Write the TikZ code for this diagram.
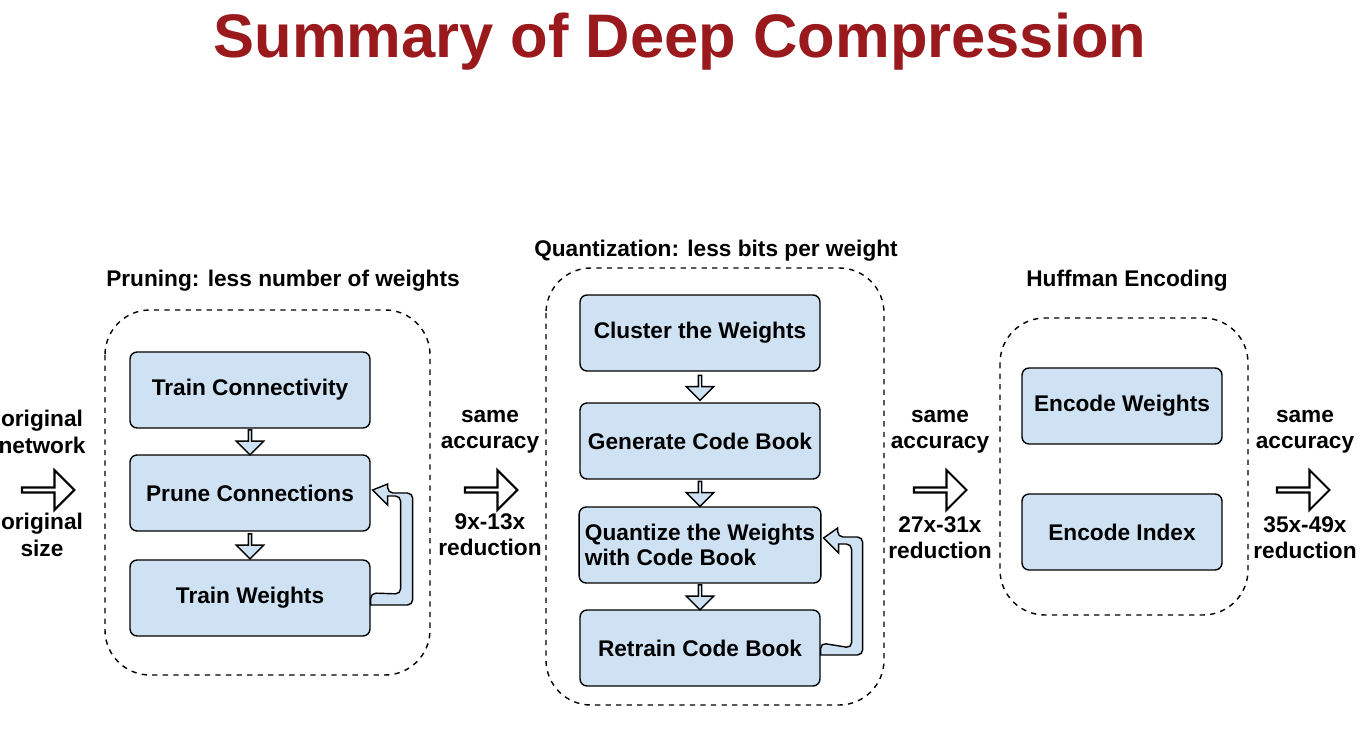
\documentclass[tikz,border=0pt]{standalone}
\usepackage{fontspec}
\setmainfont{Liberation Sans}
\usetikzlibrary{positioning, shapes.arrows, calc}
\definecolor{titlered}{HTML}{99191C}
\definecolor{stepblue}{HTML}{CFE2F3}
\tikzset{
  stepbox/.style={draw, thick, fill=stepblue, rounded corners=4pt, minimum width=4.8cm, minimum height=1.52cm, font=\bfseries\fontsize{12.9}{14.5}\selectfont, align=left},
  stage/.style={draw, thick, dashed, rounded corners=0.9cm},
  stagelabel/.style={font=\bfseries\fontsize{12.9}{14.5}\selectfont},
  note/.style={font=\bfseries\fontsize{12.9}{15}\selectfont, align=center},
  bigarrow/.style={single arrow, draw, very thick, fill=white, minimum width=0.8cm, single arrow head extend=0.15cm, minimum height=1.05cm, inner sep=0pt},
  downarrow/.style={single arrow, draw, thick, fill=stepblue, rotate=-90, minimum width=0.55cm, single arrow head extend=0.1cm, minimum height=0.5cm, inner sep=0pt}
}
\begin{document}
\begin{tikzpicture}[x=0.02cm, y=-0.02cm]
  \useasboundingbox (0,0) rectangle (1361,732);
  \node[font=\bfseries\fontsize{35}{37}\selectfont, text=titlered] (title) at (680,42) {Summary of Deep Compression};

  % pruning
  \draw[stage] (105,310) rectangle (430,675);
  \node[stagelabel] (plabel) at (283,281) {Pruning: less number of weights};
  \node[stepbox] (tc) at (250,390) {Train Connectivity};
  \node[stepbox] (pc) at (250,493) {Prune Connections};
  \node[stepbox] (tw) at (250,598) {Train Weights};
  \node[downarrow] (d1) at ($(tc.south)!0.5!(pc.north)$) {};
  \node[downarrow] (d2) at ($(pc.south)!0.5!(tw.north)$) {};
  \filldraw[thick, fill=stepblue, rounded corners=3pt]
    ($(tw.east)+(0,7)$) -- ++(42,0) -- ++(0,-112) -- ++(-25,0) [sharp corners] -- ++(0,-9) -- ($(pc.east)+(2,-3)$) -- ++(15,15) -- ++(0,-9) [rounded corners=3pt] -- ++(13,0) -- ++(0,98) -- ($(tw.east)+(0,-5)$) [sharp corners] -- cycle;

  % quantization
  \draw[stage] (546,268) rectangle (884,705);
  \node[stagelabel] (qlabel) at (716,251) {Quantization: less bits per weight};
  \node[stepbox] (cw) at (700,333) {Cluster the Weights};
  \node[stepbox] (gc) at (700,441) {Generate Code Book};
  \node[stepbox] (qw) at (700,545) {Quantize the Weights\\with Code Book};
  \node[stepbox] (rc) at (700,648) {Retrain Code Book};
  \node[downarrow] (d3) at ($(cw.south)!0.5!(gc.north)$) {};
  \node[downarrow] (d4) at ($(gc.south)!0.5!(qw.north)$) {};
  \node[downarrow] (d5) at ($(qw.south)!0.5!(rc.north)$) {};
  \filldraw[thick, fill=stepblue, rounded corners=3pt]
    ($(rc.east)+(0,7)$) -- ++(42,0) -- ++(0,-118) -- ++(-25,0) [sharp corners] -- ++(0,-9) -- ($(qw.east)+(2,-7)$) -- ++(15,15) -- ++(0,-9) [rounded corners=3pt] -- ++(13,0) -- ++(0,104) -- ($(rc.east)+(0,-5)$) [sharp corners] -- cycle;

  % huffman
  \draw[stage] (1000,318) rectangle (1248,615);
  \node[stagelabel] (hlabel) at (1127,281) {Huffman Encoding};
  \node[stepbox, minimum width=4cm] (ew) at (1122,406) {Encode Weights};
  \node[stepbox, minimum width=4cm] (ei) at (1122,532) {Encode Index};

  % flow
  \node[bigarrow] (a0) at (47,490) {};
  \node[bigarrow] (a1) at (490,490) {};
  \node[bigarrow] (a2) at (939,490) {};
  \node[bigarrow] (a3) at (1302,490) {};
  \node[note] (n0t) at (42,432) {original\\network};
  \node[note] (n0b) at (42,535) {original\\size};
  \node[note] (n1t) at (490,432) {same\\accuracy};
  \node[note] (n1b) at (490,535) {9x-13x\\reduction};
  \node[note] (n2t) at (940,432) {same\\accuracy};
  \node[note] (n2b) at (940,538) {27x-31x\\reduction};
  \node[note] (n3t) at (1305,432) {same\\accuracy};
  \node[note] (n3b) at (1305,538) {35x-49x\\reduction};
\end{tikzpicture}
\end{document}
